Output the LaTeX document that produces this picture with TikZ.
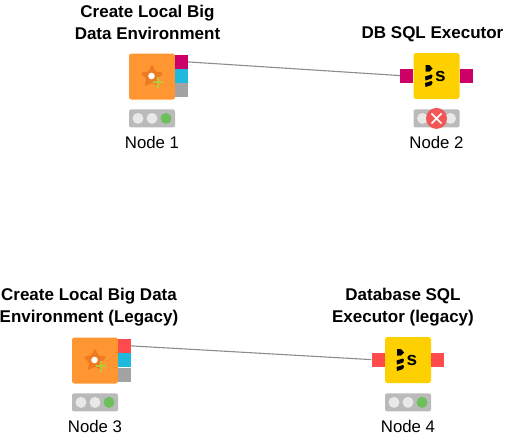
\documentclass[tikz,border=0pt]{standalone}
\usepackage{fontspec}
\setmainfont{Liberation Sans}
\usepackage{tikz}
\usetikzlibrary{shapes.geometric,positioning}
\definecolor{nodeorange}{HTML}{FF9632}
\definecolor{staricon}{HTML}{EE7A22}
\definecolor{nodeyellow}{HTML}{FFD000}
\definecolor{dbport}{HTML}{CC0066}
\definecolor{legacyport}{HTML}{FF4B4B}
\definecolor{sparkport}{HTML}{1FB9DE}
\definecolor{greyport}{HTML}{A3A3A3}
\definecolor{lampgreen}{HTML}{6CBF5A}
\definecolor{alertred}{HTML}{F25757}
\definecolor{plusgreen}{HTML}{B5C93A}

\begin{document}
\begin{tikzpicture}[
    x=1pt, y=-1pt,
    body/.style={rounded corners=2.5pt, minimum size=46pt, inner sep=0pt},
    port/.style={minimum width=13pt, minimum height=14pt, inner sep=0pt},
    status/.style={fill=black!27, rounded corners=2pt, minimum width=46pt,
                   minimum height=18pt, inner sep=0pt},
    lamp/.style={circle, minimum size=11pt, inner sep=0pt, fill=black!9},
    title/.style={font=\fontsize{17}{22}\selectfont\bfseries, align=center},
    caption/.style={font=\fontsize{16.8}{18}\selectfont, below=5.5pt of #1},
    wire/.style={draw=black!45, line width=1.1pt},
    spark/.pic={
      \node[star, star points=5, star point ratio=1.9, minimum size=24pt, inner sep=0pt,
            fill=staricon, rounded corners=1pt] at (0,0) {};
      \fill[white] (-0.5,-0.5) circle (3.3pt);
      \draw[plusgreen, line width=2.4pt] (0.5,5.5) -- (11,5.5) (5.75,0.5) -- (5.75,11);
    },
    dbmark/.pic={
      \fill[black] (-11,-11) -- (-7,-11) -- (-4,-7.5) -- (-7,-4.5) -- (-11,-4.5) -- cycle;
      \fill[black] (-11.5,0.5) -- (-5,-1.5) -- (-4,0) -- (-5,2.5) -- (-11,4.5) -- cycle;
      \fill[black] (-11.5,7) -- (-5,5) -- (-4,6.5) -- (-5,9) -- (-11,11) -- cycle;
      \node[font=\fontsize{19}{19}\selectfont\bfseries, inner sep=0pt] (mark) at (4,0) {s};
    },
  ]
  \useasboundingbox (0,0) rectangle (512,439);

  % top row
  \node[body, fill=nodeorange] (create1) at (152,76.5) {};
  \node[body, fill=nodeyellow] (exec2) at (436.5,76) {};
  \pic at (create1) {spark};
  \pic at (exec2) {dbmark};

  \node[port, fill=dbport] (create1db) at (181.5,61.5) {};
  \node[port, fill=sparkport] (create1spark) at (181.5,75.5) {};
  \node[port, fill=greyport] (create1flow) at (181.5,90) {};
  \node[port, fill=dbport, left=0pt of exec2] (exec2in) {};
  \node[port, fill=dbport, right=0pt of exec2] (exec2out) {};

  \node[status, below=9.5pt of create1] (status1) {};
  \node[lamp, left=14pt of status1.center, anchor=center] (lamp1a) {};
  \node[lamp] (lamp1b) at (status1.center) {};
  \node[lamp, fill=lampgreen, right=14pt of status1.center, anchor=center] (lamp1c) {};
  \node[status, below=10pt of exec2] (status2) {};
  \node[lamp, left=14pt of status2.center, anchor=center] (lamp2a) {};
  \node[lamp, right=14pt of status2.center, anchor=center] (lamp2c) {};
  \node[circle, fill=alertred, minimum size=21pt, inner sep=0pt] (lamp2b) at (status2.center) {};
  \draw[white, line width=1.6pt] (lamp2b.center) ++(-5,-5) -- ++(10,10) ++(0,-10) -- ++(-10,10);

  \node[title] (title1) at (147.5,22) {Create Local Big\\Data Environment};
  \node[title] (title2) at (432.5,34) {DB SQL Executor};
  \node[caption=status1] (label1) {Node 1};
  \node[caption=status2] (label2) {Node 2};

  \draw[wire] (create1db) -- (exec2in);

  % bottom row
  \node[body, fill=nodeorange] (create3) at (95,360.5) {};
  \node[body, fill=nodeyellow] (exec4) at (408,360) {};
  \pic at (create3) {spark};
  \pic at (exec4) {dbmark};

  \node[port, fill=legacyport] (create3db) at (124.5,345.5) {};
  \node[port, fill=sparkport] (create3spark) at (124.5,360) {};
  \node[port, fill=greyport] (create3flow) at (124.5,374.5) {};
  \node[port, fill=legacyport, left=0pt of exec4] (exec4in) {};
  \node[port, fill=legacyport, right=0pt of exec4] (exec4out) {};

  \node[status, below=9.5pt of create3] (status3) {};
  \node[lamp, left=14pt of status3.center, anchor=center] (lamp3a) {};
  \node[lamp] (lamp3b) at (status3.center) {};
  \node[lamp, fill=lampgreen, right=14pt of status3.center, anchor=center] (lamp3c) {};
  \node[status, below=10pt of exec4] (status4) {};
  \node[lamp, left=14pt of status4.center, anchor=center] (lamp4a) {};
  \node[lamp] (lamp4b) at (status4.center) {};
  \node[lamp, fill=lampgreen, right=14pt of status4.center, anchor=center] (lamp4c) {};

  \node[title] (title3) at (89,307) {Create Local Big Data\\Environment (Legacy)};
  \node[title] (title4) at (403,307) {Database SQL\\Executor (legacy)};
  \node[caption=status3] (label3) {Node 3};
  \node[caption=status4] (label4) {Node 4};

  \draw[wire] (create3db) -- (exec4in);

\end{tikzpicture}
\end{document}
